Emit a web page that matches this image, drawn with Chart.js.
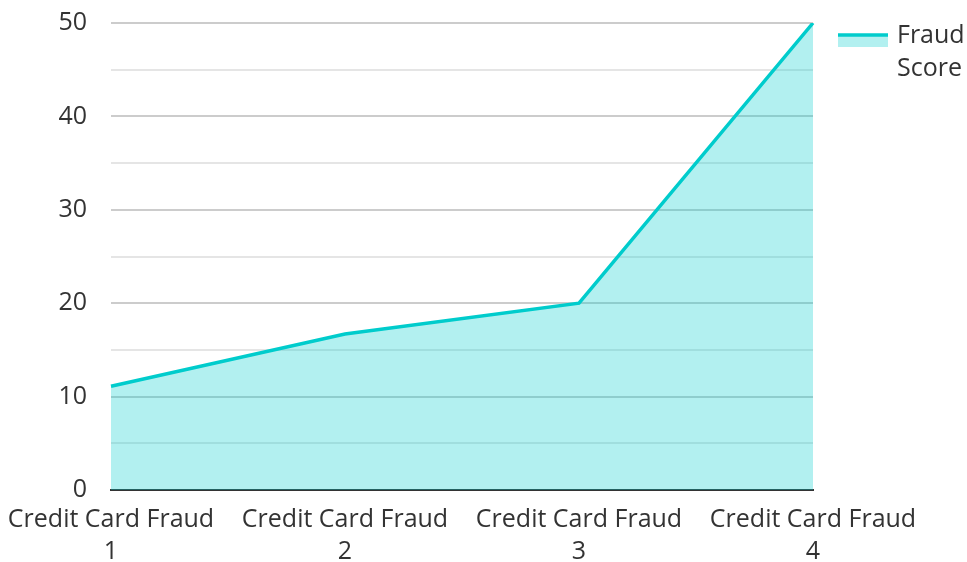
<!DOCTYPE html>
<html>
<head>
<meta charset="utf-8">
<script src="https://cdn.jsdelivr.net/npm/chart.js@4/dist/chart.umd.min.js"></script>
<style>
  html, body { margin: 0; padding: 0; background: #fff; }
  #wrap { width: 967px; height: 562px; position: relative; }
</style>
</head>
<body>
<div id="wrap"><canvas id="chart"></canvas></div>
<script>
// data
const categories = [
  ["Credit Card Fraud", "1"],
  ["Credit Card Fraud", "2"],
  ["Credit Card Fraud", "3"],
  ["Credit Card Fraud", "4"]
];
const fraudScore = [11.1, 16.7, 20, 50];
const seriesName = ["Fraud", "Score"];

const lineColor = "rgb(0, 204, 204)";
const fillColor = "rgba(0, 204, 204, 0.3)";
const textColor = "#333333";
const fontFamily = "'Open Sans', 'Noto Sans', sans-serif";
const fontSize = 25;

// legend drawn by hand so the label can wrap on two lines
const sideLegend = {
  id: "sideLegend",
  afterDraw(chart) {
    const ctx = chart.ctx;
    const x0 = 838, y0 = 35;
    ctx.save();
    ctx.fillStyle = fillColor;
    ctx.fillRect(x0, y0, 50, 12);
    ctx.strokeStyle = lineColor;
    ctx.lineWidth = 3.5;
    ctx.beginPath();
    ctx.moveTo(x0, y0);
    ctx.lineTo(x0 + 50, y0);
    ctx.stroke();
    ctx.fillStyle = textColor;
    ctx.font = fontSize + "px " + fontFamily;
    ctx.textBaseline = "middle";
    ctx.textAlign = "left";
    seriesName.forEach((t, i) => ctx.fillText(t, 897, 36 + i * 33));
    ctx.restore();
  }
};

new Chart(document.getElementById("chart"), {
  type: "line",
  data: {
    labels: categories,
    datasets: [
      {
        label: seriesName.join(" "),
        data: fraudScore,
        borderColor: lineColor,
        backgroundColor: fillColor,
        borderWidth: 3.5,
        fill: "origin",
        pointRadius: 0,
        tension: 0
      }
    ]
  },
  options: {
    responsive: true,
    maintainAspectRatio: false,
    animation: false,
    layout: { padding: { top: 23, right: 154, left: 0, bottom: 0 } },
    plugins: {
      legend: { display: false },
      tooltip: { enabled: false }
    },
    scales: {
      x: {
        offset: false,
        grid: { display: false, drawTicks: false },
        border: { display: true, color: "#333333", width: 2 },
        ticks: {
          color: textColor,
          font: { family: fontFamily, size: fontSize, lineHeight: 1.28 },
          padding: 14,
          maxRotation: 0,
          autoSkip: false
        },
        afterFit(scale) {
          scale.height = 72;
          scale.paddingLeft = 0;
          scale.paddingRight = 0;
        }
      },
      y: {
        min: 0,
        max: 50,
        z: 1,
        border: { display: false },
        grid: {
          drawTicks: false,
          color: (c) => (c.tick.value % 10 === 0 ? "rgba(0,0,0,0.2)" : "rgba(0,0,0,0.1)"),
          lineWidth: 2
        },
        ticks: {
          stepSize: 5,
          color: textColor,
          font: { family: fontFamily, size: fontSize },
          padding: 24,
          callback: (v) => (v % 10 === 0 ? v : "")
        },
        afterFit(scale) {
          scale.width = 111;
          scale.paddingTop = 0;
          scale.paddingBottom = 0;
        }
      }
    }
  },
  plugins: [sideLegend]
});
</script>
</body>
</html>
